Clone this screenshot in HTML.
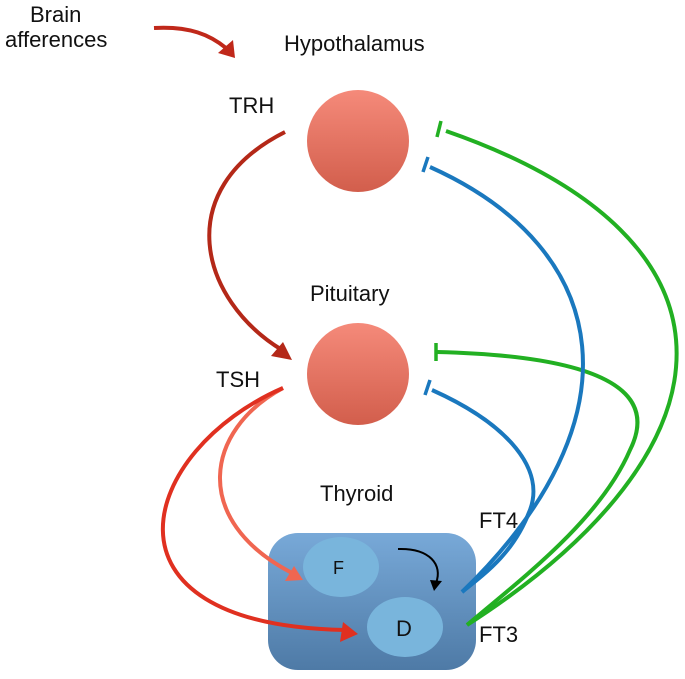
<!DOCTYPE html>
<html><head><meta charset="utf-8"><style>
html,body{margin:0;padding:0;background:#fff;}
svg{display:block;}
text{font-family:"Liberation Sans",sans-serif;fill:#111;}
</style></head><body>
<svg width="685" height="679" viewBox="0 0 685 679" xmlns="http://www.w3.org/2000/svg">
<defs>
<linearGradient id="cg" x1="0" y1="0" x2="0" y2="1"><stop offset="0" stop-color="#f58a7a"/><stop offset="1" stop-color="#d25e4c"/></linearGradient>
<linearGradient id="bg" x1="0" y1="0" x2="0" y2="1"><stop offset="0" stop-color="#78a9d8"/><stop offset="1" stop-color="#4e7aa6"/></linearGradient>
</defs>
<text x="30" y="22" font-size="22">Brain</text>
<text x="5" y="47" font-size="22">afferences</text>
<text x="284" y="51" font-size="22">Hypothalamus</text>
<text x="229" y="113" font-size="22">TRH</text>
<text x="310" y="301" font-size="22">Pituitary</text>
<text x="216" y="387" font-size="22">TSH</text>
<text x="320" y="501" font-size="22">Thyroid</text>
<text x="479" y="528" font-size="22">FT4</text>
<text x="479" y="642" font-size="22">FT3</text>

<circle cx="358" cy="141" r="51" fill="url(#cg)"/>
<circle cx="358" cy="374" r="51" fill="url(#cg)"/>
<rect x="268" y="533" width="208" height="137" rx="30" fill="url(#bg)"/>
<ellipse cx="341" cy="567" rx="38" ry="30" fill="#79b5dc"/>
<ellipse cx="405" cy="627" rx="38" ry="30" fill="#79b5dc"/>
<text x="333" y="574" font-size="18">F</text>
<text x="396" y="636" font-size="22">D</text>

<path d="M398,549 C430,548 443,565 436,583" fill="none" stroke="#000" stroke-width="2"/>
<polygon points="430,580 442,581 434,591" fill="#000"/>

<path d="M154,28 C190,26 210,35 226,48" fill="none" stroke="#c0281a" stroke-width="4"/>
<polygon points="218,53 235,58 233,40" fill="#c0281a"/>
<path d="M285,132 C170,190 200,300 282,350" fill="none" stroke="#b42818" stroke-width="4"/>
<polygon points="271,356 292,360 283,342" fill="#b42818"/>
<path d="M283,388 C205,430 190,520 292,573" fill="none" stroke="#f06651" stroke-width="4"/>
<polygon points="285,581 303,580 294,566" fill="#f06651"/>
<path d="M283,388 C140,450 85,625 345,630" fill="none" stroke="#e03020" stroke-width="4"/>
<polygon points="343,622 358,634 340,642" fill="#e03020"/>

<g fill="none" stroke-width="4">
<path d="M446,131 C760,240 740,450 467,625" stroke="#22b022"/>
<path d="M437,352 C600,356 660,390 630,450 C600,520 520,580 467,625" stroke="#22b022"/>
<path d="M430,167 C615,250 640,420 462,592" stroke="#1a78be"/>
<path d="M432,390 C510,425 545,470 530,510 C515,550 490,570 462,592" stroke="#1a78be"/>
</g>
<g stroke-width="3.5">
<line x1="441" y1="121" x2="437" y2="137" stroke="#22b022"/>
<line x1="436" y1="343" x2="436" y2="361" stroke="#22b022"/>
<line x1="428" y1="157" x2="423" y2="172" stroke="#1a78be"/>
<line x1="430" y1="380" x2="425" y2="395" stroke="#1a78be"/>
</g>
</svg>
</body></html>
